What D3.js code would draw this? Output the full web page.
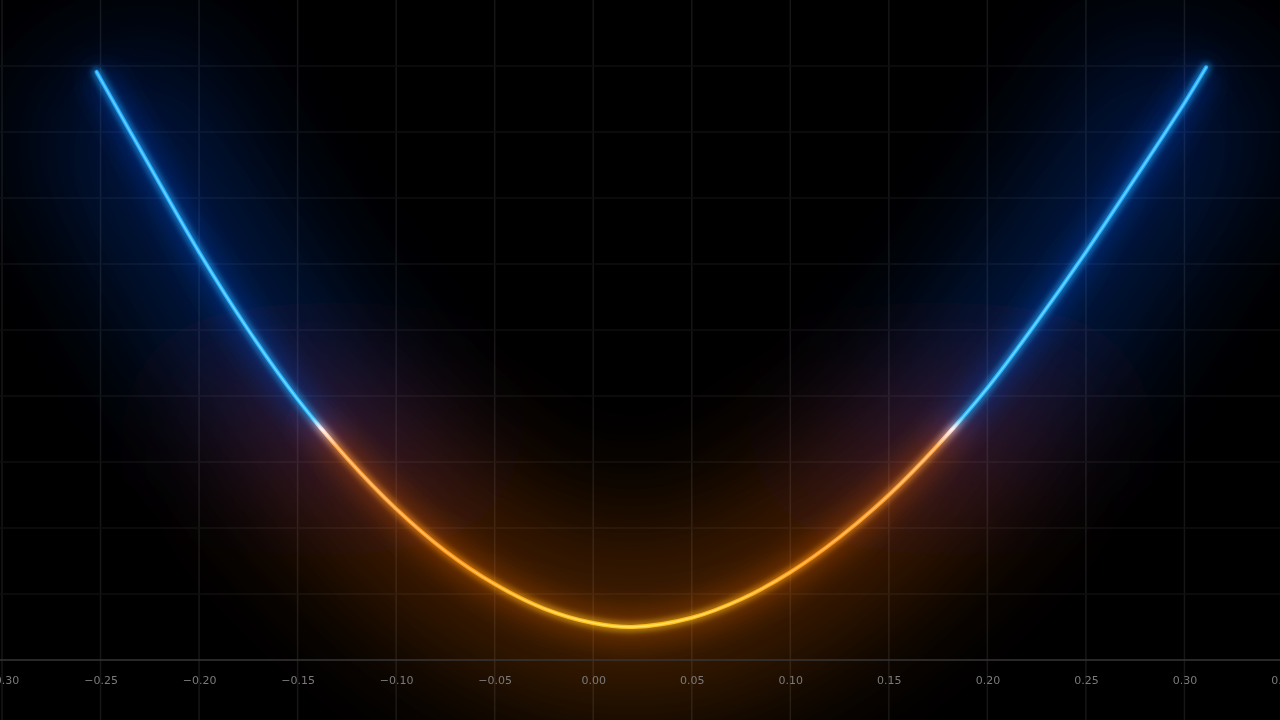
<!DOCTYPE html>
<html><head><meta charset="utf-8">
<script src="https://cdn.jsdelivr.net/npm/d3@7"></script>
<style>html,body{margin:0;padding:0;background:#000;overflow:hidden}svg{display:block}</style>
</head><body>
<svg id="chart" width="1280" height="720"></svg>
<script>
// ---- data ----
const xValues = [-0.252,-0.225,-0.2,-0.175,-0.15,-0.125,-0.1,-0.075,-0.05,-0.025,0,0.02,0.05,0.075,0.1,0.125,0.15,0.175,0.2,0.225,0.25,0.275,0.3,0.311];
const yValues = [8.91,7.48,6.18,5.0,3.95,3.06,2.29,1.65,1.15,0.78,0.56,0.50,0.64,0.92,1.33,1.86,2.50,3.26,4.12,5.12,6.18,7.30,8.44,8.98];
const xTicks = [-0.30,-0.25,-0.20,-0.15,-0.10,-0.05,0.00,0.05,0.10,0.15,0.20,0.25,0.30,0.35];
const yTicks = [0,1,2,3,4,5,6,7,8,9];

const W = 1280, H = 720;
const svg = d3.select("#chart");
const x = d3.scaleLinear().domain([-0.30, 0.35]).range([2, 1283]);
const y = d3.scaleLinear().domain([0, 9]).range([660, 66]);
const pts = xValues.map((v, i) => [v, yValues[i]]);

const defs = svg.append("defs");
function blur(id, s) {
  defs.append("filter").attr("id", id).attr("filterUnits", "userSpaceOnUse")
    .attr("x", 0).attr("y", 0).attr("width", W).attr("height", H)
    .append("feGaussianBlur").attr("stdDeviation", s);
}
blur("b1", 60); blur("b2", 14); blur("b3", 3);
defs.append("filter").attr("id", "bt").attr("x", "-20%").attr("y", "-20%").attr("width", "140%").attr("height", "140%")
  .append("feGaussianBlur").attr("stdDeviation", 0.5);

// vertical colour gradient: blue at top, white-ish transition, orange/yellow at bottom
const tY = y(3.5);
function grad(id, stops) {
  const g = defs.append("linearGradient").attr("id", id)
    .attr("gradientUnits", "userSpaceOnUse").attr("x1", 0).attr("x2", 0).attr("y1", 0).attr("y2", H);
  stops.forEach(s => g.append("stop").attr("offset", s[0] / H).attr("stop-color", s[1]));
}
grad("gCore", [[0,"#1fa8ff"],[tY-12,"#2ab8ff"],[tY,"#ffe0e0"],[tY+18,"#ffa040"],[y(1.5),"#ff9612"],[y(0.4),"#ffc820"],[H,"#ffc820"]]);
grad("gHot",  [[0,"#70d4ff"],[tY-12,"#80e0ff"],[tY,"#ffffff"],[tY+18,"#ffd090"],[y(1.5),"#ffc060"],[y(0.4),"#fff070"],[H,"#fff070"]]);
grad("gGlow", [[0,"#0850ff"],[tY-10,"#1060ff"],[tY+10,"#ff6000"],[y(1),"#ff7000"],[H,"#ff8000"]]);

// background
svg.append("rect").attr("width", W).attr("height", H).attr("fill", "#000");

// grid
const grid = svg.append("g");
grid.selectAll("line.v").data(xTicks).join("line").attr("class","v")
  .attr("x1", d => x(d)).attr("x2", d => x(d)).attr("y1", 0).attr("y2", H)
  .attr("stroke", "#161616").attr("stroke-width", 1.5);
grid.selectAll("line.h").data(yTicks.slice(1)).join("line").attr("class","h")
  .attr("x1", 0).attr("x2", W).attr("y1", d => y(d)).attr("y2", d => y(d))
  .attr("stroke", "#0f0f0f").attr("stroke-width", 1.5);

const line = d3.line().x(d => x(d[0])).y(d => y(d[1])).curve(d3.curveCatmullRom.alpha(0.5));
const dPath = line(pts);

// ambient glow
svg.append("path").attr("d", dPath).attr("fill", "none").attr("stroke", "url(#gGlow)")
  .attr("stroke-width", 170).attr("stroke-opacity", 0.26).attr("filter", "url(#b1)");
svg.append("path").attr("d", dPath).attr("fill", "none").attr("stroke", "url(#gGlow)")
  .attr("stroke-width", 26).attr("stroke-opacity", 0.32).attr("filter", "url(#b2)");

// axis
const axis = d3.axisBottom(x).tickValues(xTicks).tickSize(0).tickPadding(16)
  .tickFormat(d3.format(".2f"));
const gAx = svg.append("g").attr("transform", `translate(0,${y(0)})`).call(axis);
gAx.select(".domain").attr("stroke", "#363636").attr("stroke-width", 1.5).attr("d", `M0,0H${W}`);
gAx.selectAll("text").attr("fill", "#7a7a7a").attr("font-family", "DejaVu Sans, sans-serif")
  .attr("font-size", 11).attr("filter", "url(#bt)");

// the curve
svg.append("path").attr("d", dPath).attr("fill", "none").attr("stroke", "url(#gCore)")
  .attr("stroke-width", 9).attr("stroke-opacity", 0.6).attr("stroke-linecap", "round").attr("filter", "url(#b3)");
svg.append("path").attr("d", dPath).attr("fill", "none").attr("stroke", "url(#gCore)")
  .attr("stroke-width", 4).attr("stroke-linecap", "round");
svg.append("path").attr("d", dPath).attr("fill", "none").attr("stroke", "url(#gHot)")
  .attr("stroke-width", 1.6).attr("stroke-opacity", 0.8).attr("stroke-linecap", "round");
</script>
</body></html>
